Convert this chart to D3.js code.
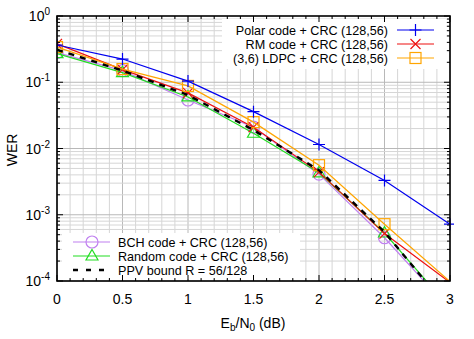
<!DOCTYPE html>
<html><head><meta charset="utf-8">
<script src="https://cdn.jsdelivr.net/npm/d3@7"></script>
<style>body{margin:0;background:#fff}svg{display:block}text{font-family:"Liberation Sans",Arial,sans-serif}</style>
</head><body><svg id="c" width="474" height="339"></svg>
<script>
const snr = [0, 0.5, 1, 1.5, 2, 2.5, 3];
const polar = [0.365, 0.224, 0.104, 0.036, 0.0115, 0.0033, 0.00072];
const rm = [0.38, 0.155, 0.069, 0.021, 0.0044, 0.00052, 0.000095];
const ldpc = [0.34, 0.158, 0.088, 0.025, 0.0056, 0.00072, 0.000098];
const bch = [0.28, 0.15, 0.054, 0.021, 0.0041, 0.00045, 0.000037];
const rnd = [0.27, 0.14, 0.06, 0.017, 0.0043, 0.00053, 0.000039];
const ppv = [0.31, 0.15, 0.064, 0.019, 0.0047, 0.00055, 0.000035];
const xTicks = [0, 0.5, 1, 1.5, 2, 2.5, 3];
const xTickLabels = ["0", "0.5", "1", "1.5", "2", "2.5", "3"];
const yExps = [0, -1, -2, -3, -4];
const names = ["Polar code + CRC (128,56)", "RM code + CRC (128,56)", "(3,6) LDPC + CRC (128,56)",
  "BCH code + CRC (128,56)", "Random code + CRC (128,56)", "PPV bound R = 56/128"];

const L = 57, R = 450, T = 16, B = 281;
const FS = 13, LFS = 12.6;
const svg = d3.select("#c");
const x = d3.scaleLinear().domain([0, 3]).range([L, R]);
const y = d3.scaleLog().domain([1e-4, 1]).range([B, T]);

// grid
const g = svg.append("g");
const minorX = d3.range(0, 31).map(i => i / 10);
minorX.forEach(v => {
  const major = Math.abs(v * 2 - Math.round(v * 2)) < 1e-9;
  g.append("line").attr("x1", x(v)).attr("x2", x(v)).attr("y1", T).attr("y2", B)
    .attr("stroke", major ? "#b8b8b8" : "#d6d6d6").attr("stroke-width", 1);
});
const minorY = [];
for (let e = -4; e < 0; e++) for (let m = 1; m <= 9; m++) minorY.push({v: m * Math.pow(10, e), major: m === 1});
minorY.forEach(d => {
  g.append("line").attr("x1", L).attr("x2", R).attr("y1", y(d.v)).attr("y2", y(d.v))
    .attr("stroke", d.major ? "#b8b8b8" : "#d6d6d6").attr("stroke-width", 1);
});

// legend backgrounds
svg.append("rect").attr("x", 222).attr("y", 19).attr("width", 224).attr("height", 50).attr("fill", "#fff");
svg.append("rect").attr("x", 62).attr("y", 233).attr("width", 238).attr("height", 46).attr("fill", "#fff");

// series
svg.append("clipPath").attr("id", "pc").append("rect")
  .attr("x", L).attr("y", T).attr("width", R - L + 4).attr("height", B - T);
const series = [
  {vals: polar, color: "#0000ee", mk: "plus"},
  {vals: rm, color: "#ee1111", mk: "cross"},
  {vals: ldpc, color: "#ffa500", mk: "square"},
  {vals: bch, color: "#c080f0", mk: "circle"},
  {vals: rnd, color: "#22dd22", mk: "tri"},
  {vals: ppv, color: "#000", mk: null, dash: true}
];
const line = d3.line().x(d => x(d[0])).y(d => y(d[1]));
const pg = svg.append("g").attr("clip-path", "url(#pc)");

function marker(sel, type, cx, cy, color) {
  const s = sel.append("g").attr("transform", `translate(${cx},${cy})`)
    .attr("fill", "none").attr("stroke", color).attr("stroke-width", 1.2);
  if (type === "plus") { s.append("path").attr("d", "M-6,0H6M0,-6V6"); }
  if (type === "cross") { s.append("path").attr("d", "M-5,-5L5,5M-5,5L5,-5"); }
  if (type === "square") { s.append("rect").attr("x", -5.5).attr("y", -5.5).attr("width", 11).attr("height", 11); }
  if (type === "circle") { s.append("circle").attr("r", 6); }
  if (type === "tri") { s.append("path").attr("d", "M0,-6.5L6,4H-6Z"); }
}

const order = [3, 4, 1, 2, 0];
order.forEach(i => {
  const s = series[i];
  const pts = snr.map((v, j) => [v, s.vals[j]]);
  pg.append("path").attr("d", line(pts)).attr("fill", "none").attr("stroke", s.color)
    .attr("stroke-width", 1.2);
  if (s.mk) pts.forEach(p => { if (p[1] >= 1e-4) marker(pg, s.mk, x(p[0]), y(p[1]), s.color); });
});
{
  const pts = snr.map((v, j) => [v, ppv[j]]);
  pg.append("path").attr("d", line(pts)).attr("fill", "none").attr("stroke", "#000")
    .attr("stroke-width", 2.4).attr("stroke-dasharray", "6,6");
}

// frame and ticks
const ax = svg.append("g").attr("stroke", "#000");
minorX.forEach(v => {
  const major = Math.abs(v * 2 - Math.round(v * 2)) < 1e-9;
  const len = major ? 6 : 3;
  ax.append("line").attr("x1", x(v)).attr("x2", x(v)).attr("y1", B).attr("y2", B - len);
  ax.append("line").attr("x1", x(v)).attr("x2", x(v)).attr("y1", T).attr("y2", T + len);
});
minorY.concat([{v: 1, major: true}]).forEach(d => {
  const len = d.major ? 6 : 3;
  ax.append("line").attr("x1", L).attr("x2", L + len).attr("y1", y(d.v)).attr("y2", y(d.v));
  ax.append("line").attr("x1", R).attr("x2", R - len).attr("y1", y(d.v)).attr("y2", y(d.v));
});
svg.append("rect").attr("x", L).attr("y", T).attr("width", R - L).attr("height", B - T)
  .attr("fill", "none").attr("stroke", "#000").attr("stroke-width", 1.6);

// tick labels
xTicks.forEach((v, i) => {
  svg.append("text").attr("x", x(v)).attr("y", 304).attr("text-anchor", "middle")
    .attr("font-size", 14).text(xTickLabels[i]);
});
yExps.forEach(e => {
  const t = svg.append("text").attr("x", 50).attr("y", y(Math.pow(10, e)) + 5)
    .attr("text-anchor", "end").attr("font-size", 14);
  t.append("tspan").text("10");
  t.append("tspan").attr("dy", -6).attr("font-size", 10).text(String(e));
});
// axis labels
const xl = svg.append("text").attr("x", 253).attr("y", 328).attr("text-anchor", "middle").attr("font-size", 14);
xl.append("tspan").text("E");
xl.append("tspan").attr("dy", 3).attr("font-size", 10).text("b");
xl.append("tspan").attr("dy", -3).text("/N");
xl.append("tspan").attr("dy", 3).attr("font-size", 10).text("0");
xl.append("tspan").attr("dy", -3).text(" (dB)");
svg.append("text").attr("transform", "translate(17,150) rotate(-90)").attr("text-anchor", "middle")
  .attr("font-size", 14).text("WER");

// legends
const top3 = [0, 1, 2], rowsT = [30, 44, 58];
top3.forEach((i, k) => {
  const s = series[i];
  svg.append("text").attr("x", 388).attr("y", rowsT[k] + 4.5).attr("text-anchor", "end")
    .attr("font-size", LFS).text(names[i]);
  svg.append("line").attr("x1", 397).attr("x2", 434).attr("y1", rowsT[k]).attr("y2", rowsT[k])
    .attr("stroke", s.color).attr("stroke-width", 1.2);
  marker(svg, s.mk, 415.5, rowsT[k], s.color);
});
const bot3 = [3, 4, 5], rowsB = [242, 256, 270];
bot3.forEach((i, k) => {
  const s = series[i];
  svg.append("text").attr("x", 118).attr("y", rowsB[k] + 4.5).attr("text-anchor", "start")
    .attr("font-size", LFS).text(names[i]);
  svg.append("line").attr("x1", 73).attr("x2", 110).attr("y1", rowsB[k]).attr("y2", rowsB[k])
    .attr("stroke", s.color).attr("stroke-width", s.dash ? 2.4 : 1.2)
    .attr("stroke-dasharray", s.dash ? "5,8" : null);
  if (s.mk) marker(svg, s.mk, 92, rowsB[k], s.color);
});
</script></body></html>
